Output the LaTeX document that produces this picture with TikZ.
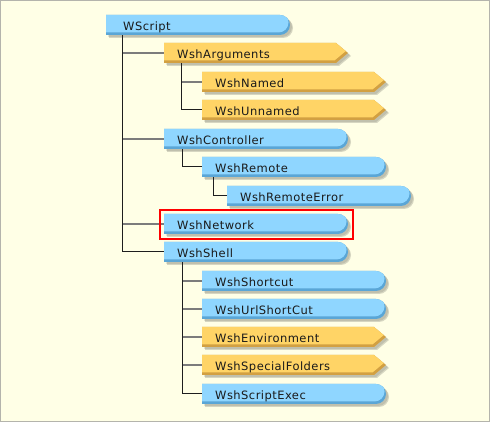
\documentclass[tikz,border=0pt]{standalone}
\usepackage{fontspec}
\setmainfont{DejaVu Sans}[LetterSpace=4]
\usetikzlibrary{calc}
\definecolor{bg}{HTML}{FFFFE6}
\definecolor{frame}{HTML}{B4B4AC}
\definecolor{bface}{HTML}{8FD6FF}
\definecolor{bdark}{HTML}{5AA6D6}
\definecolor{yface}{HTML}{FFD466}
\definecolor{ydark}{HTML}{D2A042}
\definecolor{hline}{HTML}{7C7C7C}
\definecolor{vline}{HTML}{1E1E1E}
\definecolor{txt}{HTML}{1A1A1A}
\tikzset{
  box/.style={anchor=west, minimum width=184pt, minimum height=20pt,
    inner xsep=13pt, inner ysep=0pt, text width=158pt, align=left,
    text height=11pt, text depth=0pt,
    font=\fontsize{11.5}{12}\selectfont, text=txt},
  vl/.style={draw=vline, line width=1pt},
  hl/.style={draw=hline, line width=1.5pt},
  shadowa/.style={fill=black, opacity=.16},
  shadowb/.style={fill=black, opacity=.10},
}
\def\bshape{(0,10) -- (174,10) arc[start angle=90,end angle=-90,radius=10] -- (0,-10) -- cycle}
\def\yshape{(0,10) -- (172,10) -- (184,0) -- (172,-10) -- (0,-10) -- cycle}
\newcommand\bnode[5][]{%
  \begin{scope}[shift={(#3,#4)}]
    \begin{scope}[shift={(3,-3)}]\fill[shadowa] \bshape;\end{scope}
    \begin{scope}[shift={(2,-2)}]\fill[shadowb] \bshape;\end{scope}
    \fill[bdark] \bshape;
    \begin{scope}\clip \bshape;
      \begin{scope}[shift={(-1.5,2.5)}]\fill[bface] \bshape;\end{scope}
    \end{scope}
  \end{scope}
  \node[box,#1] (#2) at (#3,#4) {#5};}
\newcommand\ynode[5][]{%
  \begin{scope}[shift={(#3,#4)}]
    \begin{scope}[shift={(3,-3)}]\fill[shadowa] \yshape;\end{scope}
    \begin{scope}[shift={(2,-2)}]\fill[shadowb] \yshape;\end{scope}
    \fill[ydark] \yshape;
    \begin{scope}\clip \yshape;
      \begin{scope}[shift={(-1.5,2.5)}]\fill[yface] \yshape;\end{scope}
    \end{scope}
  \end{scope}
  \node[box,#1] (#2) at (#3,#4) {#5};}
\begin{document}
\begin{tikzpicture}[x=1pt,y=1pt]
\useasboundingbox (0,0) rectangle (490,422);
\fill[bg] (0,0) rectangle (490,422);
\draw[frame, line width=1pt] (0.5,0.5) rectangle (489.5,421.5);

\bnode[inner xsep=17pt, text width=150pt]{ws}{106}{397}{WScript}
\ynode{wa}{164}{369}{WshArguments}
\ynode{wnd}{202}{340}{WshNamed}
\ynode{wun}{202}{312}{WshUnnamed}
\bnode{wc}{164}{283}{WshController}
\bnode{wr}{202}{255}{WshRemote}
\bnode{wre}{227}{226}{WshRemoteError}
\bnode{wn}{164}{198}{WshNetwork}
\bnode{wsh}{164}{170}{WshShell}
\bnode{wsc}{202}{141}{WshShortcut}
\bnode{wus}{202}{113}{WshUrlShortCut}
\ynode{wen}{202}{85}{WshEnvironment}
\ynode{wsf}{202}{57}{WshSpecialFolders}
\bnode{wse}{202}{28}{WshScriptExec}

% connectors
\coordinate (v0) at ($(ws.south west)+(16,0)$);
\coordinate (va) at ($(wa.south west)+(17,0)$);
\coordinate (vc) at ($(wc.south west)+(18,0)$);
\coordinate (vr) at ($(wr.south west)+(11,0)$);
\coordinate (vs) at ($(wsh.south west)+(18,0)$);

\foreach \c in {wa,wc,wn} \draw[hl] (v0 |- \c.west) -- (\c.west);
\draw[vl] (v0) |- (wsh.west);

\draw[hl] (va |- wnd.west) -- (wnd.west);
\draw[vl] (va) |- (wun.west);

\draw[vl] (vc) |- (wr.west);
\draw[vl] (vr) |- (wre.west);

\foreach \c in {wsc,wus,wen,wsf} \draw[hl] (vs |- \c.west) -- (\c.west);
\draw[vl] (vs) |- (wse.west);

% highlight
\draw[red, line width=2pt] ($(wn.south west)+(-4,-5)$) rectangle ($(wn.north east)+(5,4)$);
\end{tikzpicture}
\end{document}
